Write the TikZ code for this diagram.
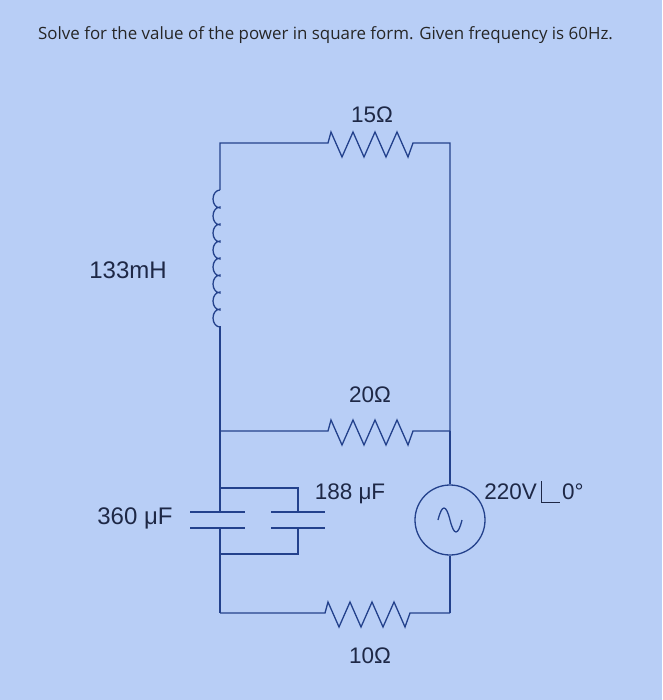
\documentclass[tikz,border=0pt]{standalone}
\usepackage{fontspec}
\setmainfont{Liberation Sans}
\newfontfamily\titlefont{Open Sans}
\begin{document}
\begin{tikzpicture}[x=1pt,y=-1pt,
  wire/.style={draw=wirec,line width=1.3pt,line join=miter},
  lbl/.style={font=\fontsize{22.5}{26}\selectfont,text=labc,inner sep=0pt},
  biglbl/.style={font=\fontsize{24}{27}\selectfont,text=labc,inner sep=0pt}]
\definecolor{bgc}{RGB}{184,206,246}
\definecolor{wirec}{RGB}{35,65,140}
\definecolor{labc}{RGB}{30,40,70}
\fill[bgc] (0,0) rectangle (662,700);
\useasboundingbox (0,0) rectangle (662,700);
\node[anchor=west,inner sep=0pt,font=\titlefont\fontsize{16.9}{19}\selectfont,text=black!85] (title) at (38,35) {Solve for the value of the power in square form. Given frequency is 60Hz.};
% corners
\coordinate (tl) at (220,143); \coordinate (tr) at (450,143);
\coordinate (ml) at (220,431); \coordinate (mr) at (450,431);
\coordinate (bl) at (220,613); \coordinate (br) at (450,613);
\coordinate (Ltop) at (220,190); \coordinate (Lbot) at (220,326);
% top branch
\draw[wire] (Lbot) -- (ml);
\draw[wire] (Ltop) -- (tl) -- (328,143) -- (331,132) -- (342,157) -- (353,132) -- (364,157) -- (375,132) -- (386,157) -- (397,132) -- (408,157) -- (413,143) -- (tr) -- (mr);
% inductor
\draw[wire] (Ltop) \foreach \i in {0,...,7}{ arc[start angle=90,end angle=270,x radius=7pt,y radius=9pt] -- ++(0,-1)} -- (Lbot);
% middle resistor
\draw[wire] (ml) -- (328,431) -- (331,420) -- (342,445) -- (353,420) -- (364,445) -- (375,420) -- (386,445) -- (397,420) -- (408,445) -- (413,431) -- (mr);
% source
\node[circle,draw=wirec,line width=1.3pt,minimum size=70pt,inner sep=0pt] (src) at (450,520) {};
\draw[wire] (mr) -- (src.north);
\draw[wire] (src.south) -- (br);
\draw[wire] ([xshift=-12pt]src.center) .. controls ++(4,-16) and ++(-4,-16) .. (src.center) .. controls ++(4,16) and ++(-4,16) .. ([xshift=12pt]src.center);
% capacitors
\draw[wire] (ml) -- (220,512);
\draw[wire] (190,512) -- (245,512);
\draw[wire] (190,528) -- (245,528);
\draw[wire] (220,528) -- (bl);
\draw[wire] (220,488) -- (298,488) -- (298,512);
\draw[wire] (271,512) -- (325,512);
\draw[wire] (271,528) -- (325,528);
\draw[wire] (298,528) -- (298,554) -- (220,554);
% bottom resistor
\draw[wire] (bl) -- (325,613) -- (328,602) -- (339,627) -- (350,602) -- (361,627) -- (372,602) -- (383,627) -- (394,602) -- (405,627) -- (410,613) -- (br);
% labels
\node[lbl] (r15) at (372,115) {15Ω};
\node[lbl] (r20) at (370,395) {20Ω};
\node[lbl] (r10) at (370,656) {10Ω};
\node[biglbl] (l) at (128,270) {133mH};
\node[biglbl] (c360) at (135,518) {360 μF};
\node[lbl] (c188) at (350,494) {188 μF};
\node[lbl,anchor=east] (v) at (537,492) {220V};
\draw[draw=labc,line width=1pt] (541,481) -- (541,502) -- (560,502);
\node[lbl,anchor=west] (ang) at (562,492) {0°};
\end{tikzpicture}
\end{document}
